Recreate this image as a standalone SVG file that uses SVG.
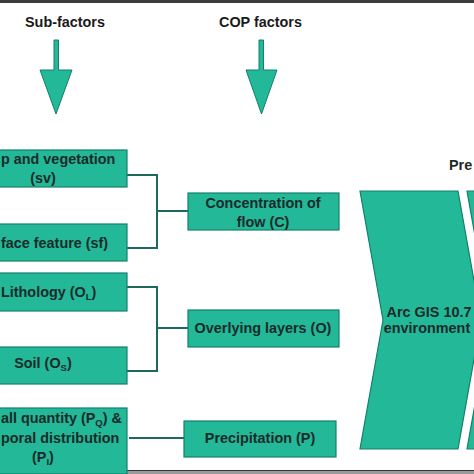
<svg xmlns="http://www.w3.org/2000/svg" width="474" height="474" viewBox="0 0 474 474">
<style>
.box{fill:#22b898;stroke:#15806c;stroke-width:1.2}
.arr{fill:#22b898;stroke:#15806c;stroke-width:1}
.t{font-family:"Liberation Sans",Arial,sans-serif;font-weight:bold;font-size:14.4px;fill:#1c2b29}
.h{font-family:"Liberation Sans",Arial,sans-serif;font-weight:bold;font-size:14.4px;fill:#1a1a1a}
.sub{font-size:9.5px}
.c{fill:none;stroke:#1d6a5c;stroke-width:2}
</style>
<rect x="0" y="0" width="474" height="474" fill="#ffffff"/>
<rect x="0" y="0" width="474" height="3" fill="#3c3c3c"/>
<rect x="0" y="470" width="474" height="4" fill="#9a9a9a"/>
<line x1="0" y1="470.5" x2="474" y2="470.5" stroke="#333" stroke-width="1"/>

<g id="header-sub">
<text class="h" x="25" y="27">Sub-factors</text>
<polygon class="arr" points="54,40 58.5,40 58.5,70 72,70 56,114 40,70 54,70"/>
</g>
<g id="header-cop">
<text class="h" x="219" y="27">COP factors</text>
<polygon class="arr" points="259,40 263.5,40 263.5,70 277,70 261.5,114 246,70 259,70"/>
</g>

<g id="connectors">
<polyline class="c" points="127,175 157,175 157,248 127,248"/>
<line class="c" x1="157" y1="211" x2="188" y2="211"/>
<polyline class="c" points="127,287 157,287 157,371 127,371"/>
<line class="c" x1="157" y1="328" x2="188" y2="328"/>
<line class="c" x1="129" y1="438" x2="184" y2="438"/>
</g>

<g id="sv">
<rect class="box" x="-42" y="150" width="169" height="37"/>
<text class="t" x="1" y="164">p and vegetation</text>
<text class="t" x="43" y="183" text-anchor="middle">(sv)</text>
</g>
<g id="sf">
<rect class="box" x="-42" y="224" width="169" height="37"/>
<text class="t" x="1" y="247.5">face feature (sf)</text>
</g>
<g id="ol">
<rect class="box" x="-42" y="273" width="169" height="38"/>
<text class="t" x="1" y="297">Lithology (O<tspan class="sub" dy="3">L</tspan><tspan dy="-3">)</tspan></text>
</g>
<g id="os">
<rect class="box" x="-42" y="347" width="169" height="37"/>
<text class="t" x="43" y="368" text-anchor="middle">Soil (O<tspan class="sub" dy="3">S</tspan><tspan dy="-3">)</tspan></text>
</g>
<g id="p-sub">
<rect class="box" x="-42" y="408" width="169" height="66"/>
<text class="t" x="1" y="423">all quantity (P<tspan class="sub" dy="3">Q</tspan><tspan dy="-3">) &amp;</tspan></text>
<text class="t" x="1" y="443">poral distribution</text>
<text class="t" x="43" y="462" text-anchor="middle">(P<tspan class="sub" dy="3">I</tspan><tspan dy="-3">)</tspan></text>
</g>

<g id="c">
<rect class="box" x="188" y="193" width="151" height="37"/>
<text class="t" x="263" y="208" text-anchor="middle">Concentration of</text>
<text class="t" x="263" y="227" text-anchor="middle">flow (C)</text>
</g>
<g id="o">
<rect class="box" x="188" y="310" width="151" height="37"/>
<text class="t" x="263" y="333" text-anchor="middle">Overlying layers (O)</text>
</g>
<g id="p">
<rect class="box" x="184" y="421" width="152" height="36"/>
<text class="t" x="260" y="443" text-anchor="middle">Precipitation (P)</text>
</g>

<g id="arcgis">
<polygon class="box" points="360,191 458,191 481,320 458,449 360,449 383,320"/>
<text class="t" x="429" y="317" text-anchor="middle">Arc GIS 10.7</text>
<text class="t" x="427" y="333" text-anchor="middle">environment</text>
</g>
<g id="pre">
<text class="t" x="449" y="170">Pre</text>
<polygon class="box" points="467,191 565,191 588,320 565,449 467,449 490,320"/>
</g>
</svg>
